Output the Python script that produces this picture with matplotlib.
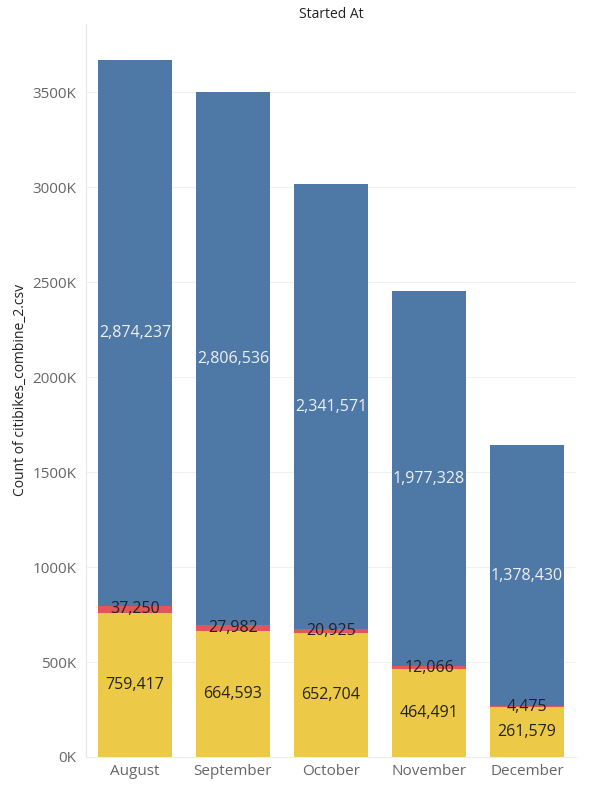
import matplotlib
matplotlib.use("Agg")
import matplotlib.pyplot as plt
from matplotlib.ticker import FuncFormatter

months = ["August", "September", "October", "November", "December"]
yellow_vals = [759417, 664593, 652704, 464491, 261579]
red_vals = [37250, 27982, 20925, 12066, 4475]
blue_vals = [2874237, 2806536, 2341571, 1977328, 1378430]

c_yellow = "#edc948"
c_red = "#e15759"
c_blue = "#4e79a7"

plt.rcParams['font.family'] = ['Open Sans', 'DejaVu Sans']

fig = plt.figure(figsize=(5.89, 7.86), dpi=100)
ax = fig.add_axes([86/589, 1-757/786, 490/589, 733/786])

x = list(range(len(months)))
w = 0.755
ax.bar(x, yellow_vals, width=w, color=c_yellow, zorder=2)
red_bottom = yellow_vals
ax.bar(x, red_vals, width=w, bottom=red_bottom, color=c_red, zorder=2)
blue_bottom = [a + b for a, b in zip(yellow_vals, red_vals)]
ax.bar(x, blue_vals, width=w, bottom=blue_bottom, color=c_blue, zorder=2)

fs = 11.5
for i in x:
    ax.text(i, yellow_vals[i] / 2, f"{yellow_vals[i]:,}", ha="center", va="center",
            fontsize=fs, color="#222222", zorder=3)
    ax.text(i, yellow_vals[i] + red_vals[i] / 2, f"{red_vals[i]:,}", ha="center", va="center",
            fontsize=fs, color="#222222", zorder=3)
    ax.text(i, blue_bottom[i] + blue_vals[i] / 2, f"{blue_vals[i]:,}", ha="center", va="center",
            fontsize=fs, color="#f0f0f0", zorder=3)

ax.set_xlim(-0.5, len(months) - 0.5)
ax.set_ylim(0, 3858000)
ax.set_yticks([i * 500000 for i in range(8)])
ax.yaxis.set_major_formatter(FuncFormatter(lambda v, p: f"{int(v/1000)}K"))
ax.set_xticks(x)
ax.set_xticklabels(months)
ax.tick_params(axis="both", length=0, colors="#666666", labelsize=11)
ax.tick_params(axis="x", pad=5)
ax.tick_params(axis="y", pad=7)
ax.grid(axis="y", color="#f0f0f0", linewidth=0.8, zorder=0)
for s in ["top", "right"]:
    ax.spines[s].set_visible(False)
ax.spines["left"].set_color("#e6e6e6")
ax.spines["bottom"].set_color("#ececec")
ax.spines["left"].set_linewidth(0.8)
ax.spines["bottom"].set_linewidth(0.8)

ax.set_ylabel("Count of citibikes_combine_2.csv", fontsize=10, color="#222222")
ax.yaxis.set_label_coords(-(86 - 28) / 490, 0.5)
fig.text(331/589, 1 - 14/786, "Started At", ha="center", va="center", fontsize=10, color="#222222")

fig.savefig("out.png", dpi=100)
